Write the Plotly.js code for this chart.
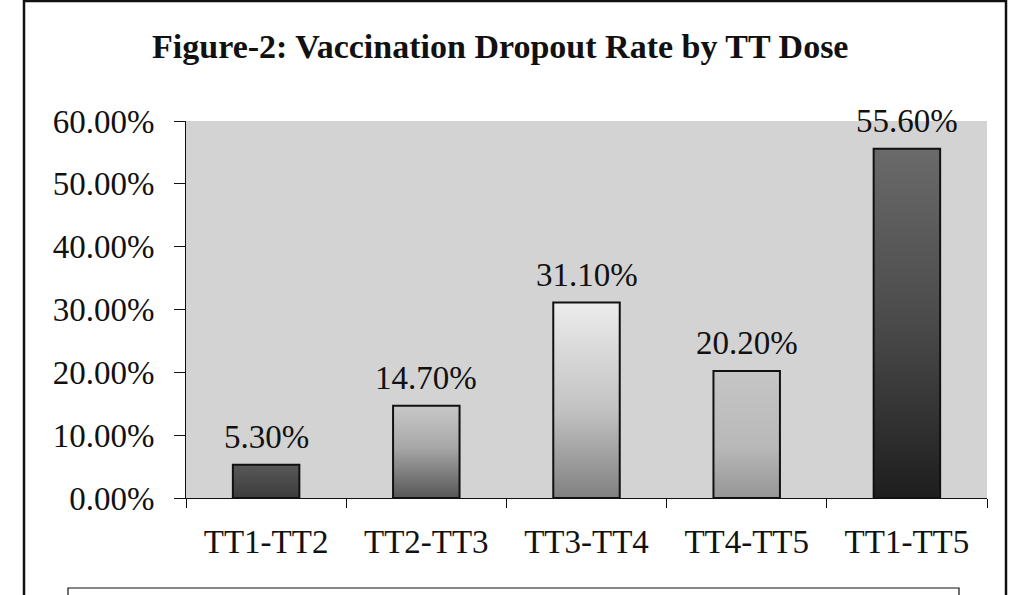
<!DOCTYPE html>
<html>
<head>
<meta charset="utf-8">
<script src="https://cdn.plot.ly/plotly-3.0.1.min.js"></script>
<style>
  html, body { margin: 0; padding: 0; background: #fff; }
  #chart { width: 1023px; height: 595px; }
</style>
</head>
<body>
<div id="chart"></div>
<script>
// ---- data ----
const categories = ["TT1-TT2", "TT2-TT3", "TT3-TT4", "TT4-TT5", "TT1-TT5"];
const dropoutRates = [0.053, 0.147, 0.311, 0.202, 0.556];
const valueLabels = ["5.30%", "14.70%", "31.10%", "20.20%", "55.60%"];
const yTickValues = [0, 0.1, 0.2, 0.3, 0.4, 0.5, 0.6];
const yTickLabels = ["0.00%", "10.00%", "20.00%", "30.00%", "40.00%", "50.00%", "60.00%"];
const chartTitle = "Figure-2: Vaccination Dropout Rate by TT Dose";

// ---- styles (gradient stops per bar, top to bottom) ----
const barGradients = [
  [[0, "#585858"], [1, "#3c3c3c"]],
  [[0, "#c8c8c8"], [0.45, "#a8a8a8"], [1, "#565656"]],
  [[0, "#ececec"], [0.55, "#c2c2c2"], [1, "#808080"]],
  [[0, "#c6c6c6"], [0.6, "#b8b8b8"], [1, "#969696"]],
  [[0, "#6a6a6a"], [0.5, "#4a4a4a"], [1, "#1e1e1e"]]
];
const flatColors = ["#484848", "#989898", "#bdbdbd", "#b6b6b6", "#444444"];

const serif = "'Liberation Serif', 'Times New Roman', 'DejaVu Serif', serif";
const textSize = 33;

const trace = {
  type: "bar",
  x: categories,
  y: dropoutRates,
  marker: { color: flatColors, line: { color: "#111", width: 2 } },
  hoverinfo: "skip",
  showlegend: false
};

const annotations = categories.map((c, i) => ({
  x: c, y: dropoutRates[i], xref: "x", yref: "y",
  text: valueLabels[i], showarrow: false,
  yanchor: "bottom", yshift: 8,
  font: { family: serif, size: textSize, color: "#111" }
}));

const plotTop = 121, plotBottom = 498, plotLeft = 186, plotRight = 987;
const ph = plotBottom - plotTop, pw = plotRight - plotLeft;
const px = v => (v - plotLeft) / pw;
const py = v => (plotBottom - v) / ph;

const layout = {
  width: 1023, height: 595,
  margin: { l: plotLeft, r: 1023 - plotRight, t: plotTop, b: 595 - plotBottom, pad: 0 },
  paper_bgcolor: "#ffffff",
  plot_bgcolor: "#d3d3d3",
  bargap: 0.585,
  showlegend: false,
  title: {
    text: "<b>" + chartTitle + "</b>",
    xref: "container", yref: "container",
    x: 0.489, y: 1 - 46 / 595,
    xanchor: "center", yanchor: "middle",
    font: { family: serif, size: 34, color: "#111" }
  },
  xaxis: {
    type: "category",
    showgrid: false, zeroline: false,
    showline: true, linecolor: "#111", linewidth: 1,
    ticks: "outside", tickson: "boundaries", ticklen: 9, tickcolor: "#111", tickwidth: 1,
    tickangle: 0,
    ticklabelstandoff: 14,
    tickfont: { family: serif, size: textSize, color: "#111" },
    fixedrange: true
  },
  yaxis: {
    range: [0, 0.6],
    tickvals: yTickValues, ticktext: yTickLabels,
    showgrid: false, zeroline: false,
    showline: true, linecolor: "#111", linewidth: 1,
    ticks: "outside", ticklen: 11, tickcolor: "#111", tickwidth: 1,
    ticklabelstandoff: 13,
    tickfont: { family: serif, size: textSize, color: "#111" },
    fixedrange: true
  },
  annotations: annotations,
  shapes: [
    { type: "rect", xref: "paper", yref: "paper",
      x0: px(24), x1: px(1006), y0: py(640), y1: py(1),
      line: { color: "#111", width: 2.5 }, fillcolor: "rgba(0,0,0,0)", layer: "above" },
    { type: "rect", xref: "paper", yref: "paper",
      x0: px(68), x1: px(959), y0: py(640), y1: py(588),
      line: { color: "#111", width: 1.2 }, fillcolor: "rgba(0,0,0,0)", layer: "above" }
  ]
};

Plotly.newPlot("chart", [trace], layout, { staticPlot: true, displayModeBar: false }).then(gd => {
  const svg = gd.querySelector(".main-svg");
  let defs = svg.querySelector("defs");
  const ns = "http://www.w3.org/2000/svg";
  if (!defs) { defs = document.createElementNS(ns, "defs"); svg.insertBefore(defs, svg.firstChild); }
  barGradients.forEach((stops, i) => {
    const g = document.createElementNS(ns, "linearGradient");
    g.setAttribute("id", "barGrad" + i);
    g.setAttribute("x1", "0"); g.setAttribute("y1", "0");
    g.setAttribute("x2", "0"); g.setAttribute("y2", "1");
    stops.forEach(s => {
      const st = document.createElementNS(ns, "stop");
      st.setAttribute("offset", s[0]);
      st.setAttribute("stop-color", s[1]);
      g.appendChild(st);
    });
    defs.appendChild(g);
  });
  const paths = gd.querySelectorAll(".bars .point path");
  paths.forEach((p, i) => { p.style.fill = "url(#barGrad" + i + ")"; });
});
</script>
</body>
</html>
